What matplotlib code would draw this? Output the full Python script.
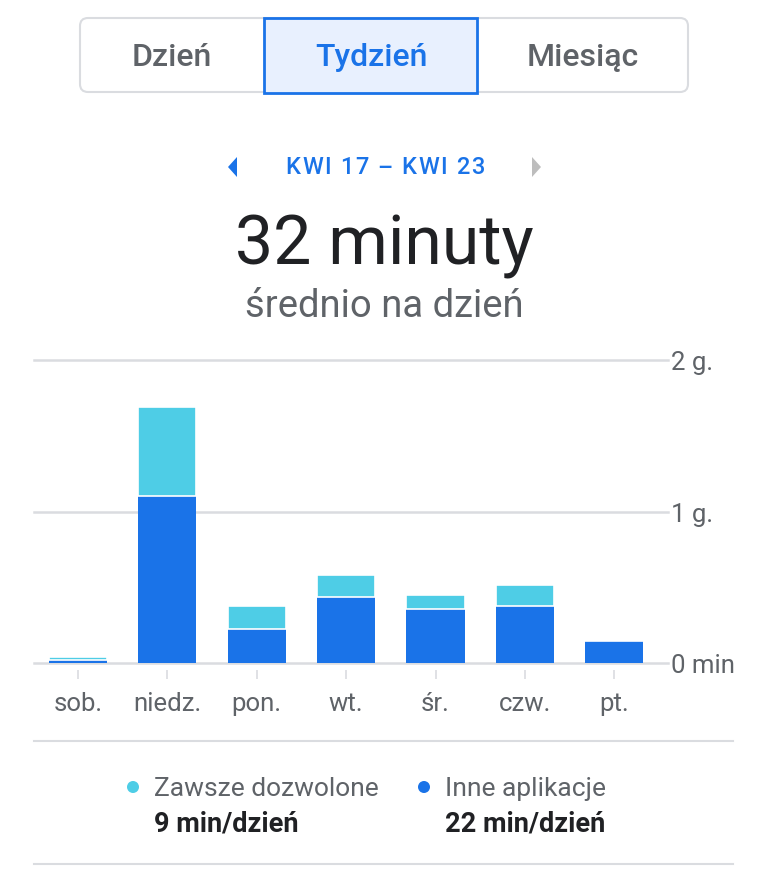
import matplotlib
matplotlib.use("Agg")
import matplotlib.pyplot as plt
from matplotlib.patches import FancyBboxPatch, Rectangle, Polygon, Circle
from matplotlib.font_manager import FontProperties
import numpy as np

plt.rcParams['font.family'] = ['Roboto', 'DejaVu Sans']

# minutes per day, week KWI 17 - KWI 23
days = ['sob.', 'niedz.', 'pon.', 'wt.', 'śr.', 'czw.', 'pt.']
other_apps = [1.0, 66.0, 13.5, 26.0, 21.5, 22.5, 8.7]       # Inne aplikacje
always_allowed = [1.5, 35.5, 9.0, 9.0, 5.5, 8.5, 0.0]      # Zawsze dozwolone
y_ticks = [0, 60, 120]
y_tick_labels = ['0 min', '1 g.', '2 g.']

DARK = '#1a73e8'
CYAN = '#4ecde6'
GRID = '#dadce0'
GREY_TXT = '#5f6368'
BLACK_TXT = '#202124'

W, H = 768, 879
fig = plt.figure(figsize=(W / 100, H / 100), dpi=100)
renderer = fig.canvas.get_renderer()

# overlay in pixel coordinates for the app chrome
ov = fig.add_axes([0, 0, 1, 1], zorder=0)
ov.set_xlim(0, W)
ov.set_ylim(H, 0)
ov.axis('off')


def spaced_text(s, xc, y, width, **kw):
    """Draw s centred at xc with letter spacing so it spans about `width` px."""
    fp = FontProperties(family=plt.rcParams['font.family'], size=kw['fontsize'],
                        weight=kw.get('weight', 'normal'))
    widths = [renderer.get_text_width_height_descent(c, fp, ismath=False)[0] for c in s]
    extra = (width - sum(widths)) / (len(s) - 1)
    xpos = xc - width / 2
    for c, w in zip(s, widths):
        ov.text(xpos, y, c, ha='left', va='center', **kw)
        xpos += w + extra


# segmented control
ov.add_patch(FancyBboxPatch((80, 19), 608, 74, boxstyle="round,pad=0,rounding_size=8",
                            fc='white', ec=GRID, lw=1.5))
ov.add_patch(Rectangle((264, 19), 213, 75, fc='#e8f0fe', ec=DARK, lw=2))
for label, xc, col in [('Dzień', 172, GREY_TXT), ('Tydzień', 371, DARK), ('Miesiąc', 583, GREY_TXT)]:
    ov.text(xc, 57, label, ha='center', va='center', fontsize=23, color=col, weight='medium')

# date range with arrows
ov.add_patch(Polygon([(237, 158), (237, 178), (228, 168)], closed=True, fc=DARK, ec='none'))
ov.add_patch(Polygon([(532, 158), (532, 178), (541, 168)], closed=True, fc='#bdbdbd', ec='none'))
spaced_text('KWI 17 – KWI 23', 385, 168, 199, fontsize=17, color=DARK, weight='medium')

# headline
ov.text(384, 246, '32 minuty', ha='center', va='center', fontsize=49, color=BLACK_TXT)
ov.text(384, 307, 'średnio na dzień', ha='center', va='center', fontsize=27.5, color=GREY_TXT)

# separators
ov.plot([34, 733], [742, 742], color=GRID, lw=1.5)
ov.plot([34, 733], [865, 865], color=GRID, lw=1.5)

# legend
ov.add_patch(Circle((133, 788), 6, fc=CYAN, ec='none'))
ov.add_patch(Circle((424, 788), 6, fc=DARK, ec='none'))
ov.text(154, 789, 'Zawsze dozwolone', ha='left', va='center', fontsize=19, color=GREY_TXT)
ov.text(154, 824, '9 min/dzień', ha='left', va='center', fontsize=19.5, color=BLACK_TXT, weight='bold')
ov.text(445, 789, 'Inne aplikacje', ha='left', va='center', fontsize=19, color=GREY_TXT)
ov.text(445, 824, '22 min/dzień', ha='left', va='center', fontsize=19.5, color=BLACK_TXT, weight='bold')

# bar chart
ax = fig.add_axes([34 / W, 1 - 664 / H, (668 - 34) / W, (664 - 361) / H], zorder=1)
ax.patch.set_alpha(0)
x = np.arange(len(days))
for yv in y_ticks:
    ax.axhline(yv, color=GRID, lw=1.8, clip_on=False, zorder=0)
ax.bar(x, other_apps, width=0.65, color=DARK, zorder=2)
ax.bar(x, always_allowed, width=0.65, bottom=other_apps, color=CYAN,
       edgecolor='white', linewidth=1.2, zorder=2)

ax.set_xlim(-0.49, 6.6)
ax.set_ylim(0, 120)
for s in ax.spines.values():
    s.set_visible(False)
ax.spines['bottom'].set_position(('outward', 5))

ax.set_xticks(x)
ax.set_xticklabels(days)
ax.tick_params(axis='x', direction='out', length=6.5, width=1.2, color=GRID,
               labelsize=18.5, labelcolor=GREY_TXT, pad=9)
ax.yaxis.tick_right()
ax.set_yticks(y_ticks)
ax.set_yticklabels(y_tick_labels)
ax.tick_params(axis='y', length=0, pad=2, labelsize=18.5, labelcolor=GREY_TXT)

fig.savefig('out.png', dpi=100)
